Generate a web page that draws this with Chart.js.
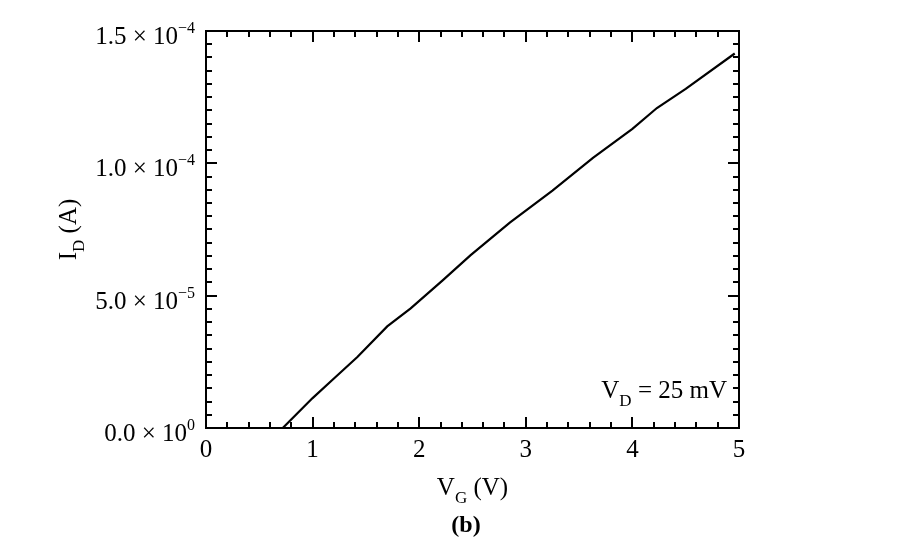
<!DOCTYPE html>
<html>
<head>
<meta charset="utf-8">
<script src="https://cdn.jsdelivr.net/npm/chart.js@4/dist/chart.umd.min.js"></script>
<style>
html,body{margin:0;padding:0;background:#fff;}
canvas{display:block;}
</style>
</head>
<body>
<canvas id="c" width="913" height="553"></canvas>
<script>
// ---- data ----
const vg = [0.72, 1.0, 1.2, 1.42, 1.7, 1.92, 2.22, 2.48, 2.85, 3.25, 3.63, 4.0, 4.23, 4.5, 4.96];
const id = [0, 1.13e-5, 1.87e-5, 2.68e-5, 3.84e-5, 4.52e-5, 5.58e-5, 6.52e-5, 7.76e-5, 8.97e-5, 1.021e-4, 1.130e-4, 1.209e-4, 1.281e-4, 1.415e-4];
const xTicks = [0, 1, 2, 3, 4, 5];
const xTickLabels = ['0', '1', '2', '3', '4', '5'];
const yTicks = [0, 5e-5, 1e-4, 1.5e-4];
const yTickMantissa = ['0.0 × 10', '5.0 × 10', '1.0 × 10', '1.5 × 10'];
const yTickExp = ['0', '\u22125', '\u22124', '\u22124'];
const xMinorStep = 0.2;
const yMinorStep = 5e-6;

const FONT = '"Liberation Serif", "Times New Roman", serif';

function drawSub(ctx, parts, x, y, align, size) {
  const subSize = Math.round(size * 0.68);
  let total = 0;
  const widths = parts.map(p => {
    ctx.font = (p[1] === 'n' ? size : subSize) + 'px ' + FONT;
    const w = ctx.measureText(p[0]).width;
    total += w;
    return w;
  });
  let cx = x;
  if (align === 'center') cx = x - total / 2;
  else if (align === 'right') cx = x - total;
  ctx.textAlign = 'left';
  ctx.textBaseline = 'alphabetic';
  parts.forEach((p, i) => {
    let dy = 0;
    if (p[1] === 'sub') dy = size * 0.3;
    if (p[1] === 'sup') dy = -size * 0.45;
    ctx.font = (p[1] === 'n' ? size : subSize) + 'px ' + FONT;
    ctx.fillText(p[0], cx, y + dy);
    cx += widths[i];
  });
}

const framePlugin = {
  id: 'frame',
  afterDatasetsDraw(chart) {
    const ctx = chart.ctx;
    const a = chart.chartArea;
    const xs = chart.scales.x, ys = chart.scales.y;
    ctx.save();
    ctx.strokeStyle = '#000';
    ctx.fillStyle = '#000';
    ctx.lineWidth = 2;
    ctx.lineCap = 'butt';
    ctx.strokeRect(a.left, a.top, a.right - a.left, a.bottom - a.top);
    const nx = Math.round((xs.max - xs.min) / xMinorStep);
    for (let i = 0; i <= nx; i++) {
      const v = xs.min + i * xMinorStep;
      const px = Math.round(xs.getPixelForValue(v));
      const len = (i % 5 === 0) ? 11 : 6;
      ctx.beginPath();
      ctx.moveTo(px, a.bottom); ctx.lineTo(px, a.bottom - len);
      ctx.moveTo(px, a.top); ctx.lineTo(px, a.top + len);
      ctx.stroke();
    }
    const ny = Math.round((ys.max - ys.min) / yMinorStep);
    for (let i = 0; i <= ny; i++) {
      const v = ys.min + i * yMinorStep;
      const py = Math.round(ys.getPixelForValue(v));
      const len = (i % 10 === 0) ? 11 : 6;
      ctx.beginPath();
      ctx.moveTo(a.left, py); ctx.lineTo(a.left + len, py);
      ctx.moveTo(a.right, py); ctx.lineTo(a.right - len, py);
      ctx.stroke();
    }
    // x tick labels
    ctx.textAlign = 'center';
    ctx.textBaseline = 'alphabetic';
    ctx.font = '25px ' + FONT;
    xTicks.forEach((v, i) => {
      ctx.fillText(xTickLabels[i], xs.getPixelForValue(v), a.bottom + 29);
    });
    // y tick labels
    yTicks.forEach((v, i) => {
      const py = ys.getPixelForValue(v);
      const right = a.left - 11;
      ctx.font = '16px ' + FONT;
      const ew = ctx.measureText(yTickExp[i]).width;
      ctx.textAlign = 'right';
      ctx.fillText(yTickExp[i], right, py + 2);
      ctx.font = '25px ' + FONT;
      ctx.fillText(yTickMantissa[i], right - ew, py + 13);
    });
    const cx = (a.left + a.right) / 2;
    drawSub(ctx, [['V', 'n'], ['G', 'sub'], [' (V)', 'n']], cx, a.bottom + 67, 'center', 25);
    ctx.save();
    ctx.translate(76, (a.top + a.bottom) / 2);
    ctx.rotate(-Math.PI / 2);
    drawSub(ctx, [['I', 'n'], ['D', 'sub'], [' (A)', 'n']], 0, 0, 'center', 25);
    ctx.restore();
    drawSub(ctx, [['V', 'n'], ['D', 'sub'], [' = 25 mV', 'n']], 727, 398, 'right', 25);
    ctx.font = 'bold 24px ' + FONT;
    ctx.textAlign = 'center';
    ctx.fillText('(b)', 466, 532);
    ctx.restore();
  }
};

new Chart(document.getElementById('c'), {
  type: 'line',
  data: {
    datasets: [{
      data: vg.map((x, i) => ({ x: x, y: id[i] })),
      borderColor: '#000',
      borderWidth: 2.2,
      pointRadius: 0,
      tension: 0,
      fill: false
    }]
  },
  options: {
    responsive: false,
    animation: false,
    devicePixelRatio: 1,
    layout: { padding: { left: 206, right: 174, top: 31, bottom: 125 } },
    plugins: { legend: { display: false }, tooltip: { enabled: false } },
    scales: {
      x: { type: 'linear', min: 0, max: 5, display: false },
      y: { type: 'linear', min: 0, max: 1.5e-4, display: false }
    }
  },
  plugins: [framePlugin]
});
</script>
</body>
</html>
